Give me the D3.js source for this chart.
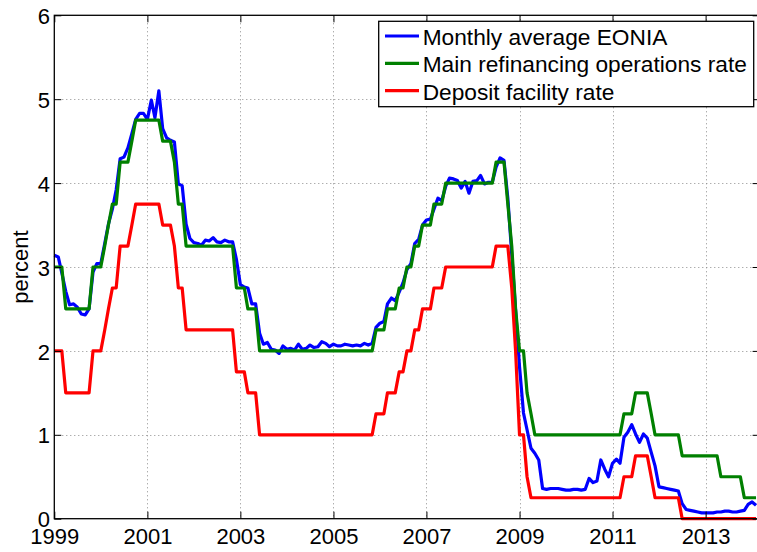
<!DOCTYPE html>
<html>
<head>
<meta charset="utf-8">
<script src="https://d3js.org/d3.v7.min.js"></script>
<style>
body { margin: 0; background: #fff; }
svg { display: block; font-family: "Liberation Sans", Arial, sans-serif; }
</style>
</head>
<body>
<div id="chart"></div>
<script>
// monthly values, Jan 1999 .. Feb 2014
var startYear = 1999;

var eonia = [
    3.14, 3.12, 2.93, 2.71, 2.55, 2.56, 2.52, 2.44, 2.43, 2.50, 2.94, 3.04,
    3.04, 3.28, 3.51, 3.69, 3.92, 4.29, 4.31, 4.42, 4.59, 4.76, 4.83, 4.83,
    4.76, 4.99, 4.78, 5.10, 4.65, 4.54, 4.51, 4.49, 3.99, 3.97, 3.51, 3.34,
    3.29, 3.28, 3.26, 3.32, 3.31, 3.35, 3.30, 3.29, 3.32, 3.30, 3.30, 3.09,
    2.79, 2.76, 2.75, 2.56, 2.56, 2.21, 2.08, 2.10, 2.02, 2.01, 1.97, 2.06,
    2.02, 2.03, 2.01, 2.08, 2.02, 2.03, 2.07, 2.04, 2.05, 2.11, 2.09, 2.05,
    2.08, 2.06, 2.06, 2.08, 2.07, 2.06, 2.07, 2.06, 2.09, 2.07, 2.09, 2.28,
    2.33, 2.35, 2.56, 2.63, 2.60, 2.70, 2.81, 2.97, 3.04, 3.28, 3.33, 3.50,
    3.56, 3.57, 3.69, 3.82, 3.79, 3.96, 4.06, 4.05, 4.03, 3.94, 4.02, 3.88,
    4.02, 4.03, 4.09, 3.99, 4.01, 4.01, 4.19, 4.30, 4.27, 3.82, 3.15, 2.49,
    1.81, 1.26, 1.06, 0.84, 0.78, 0.70, 0.36, 0.35, 0.36, 0.36, 0.36, 0.35,
    0.34, 0.34, 0.35, 0.35, 0.34, 0.35, 0.48, 0.43, 0.45, 0.70, 0.59, 0.50,
    0.66, 0.71, 0.66, 0.97, 1.03, 1.12, 1.01, 0.91, 1.01, 0.96, 0.79, 0.63,
    0.38, 0.37, 0.36, 0.35, 0.34, 0.33, 0.18, 0.11, 0.10, 0.09, 0.08, 0.07,
    0.07, 0.07, 0.07, 0.08, 0.08, 0.09, 0.09, 0.08, 0.08, 0.09, 0.10, 0.17,
    0.20, 0.16
];

var mro = [
    3.00, 3.00, 3.00, 2.50, 2.50, 2.50, 2.50, 2.50, 2.50, 2.50, 3.00, 3.00,
    3.00, 3.25, 3.50, 3.75, 3.75, 4.25, 4.25, 4.25, 4.50, 4.75, 4.75, 4.75,
    4.75, 4.75, 4.75, 4.75, 4.50, 4.50, 4.50, 4.25, 3.75, 3.75, 3.25, 3.25,
    3.25, 3.25, 3.25, 3.25, 3.25, 3.25, 3.25, 3.25, 3.25, 3.25, 3.25, 2.75,
    2.75, 2.75, 2.50, 2.50, 2.50, 2.00, 2.00, 2.00, 2.00, 2.00, 2.00, 2.00,
    2.00, 2.00, 2.00, 2.00, 2.00, 2.00, 2.00, 2.00, 2.00, 2.00, 2.00, 2.00,
    2.00, 2.00, 2.00, 2.00, 2.00, 2.00, 2.00, 2.00, 2.00, 2.00, 2.00, 2.25,
    2.25, 2.25, 2.50, 2.50, 2.50, 2.75, 2.75, 3.00, 3.00, 3.25, 3.25, 3.50,
    3.50, 3.50, 3.75, 3.75, 3.75, 4.00, 4.00, 4.00, 4.00, 4.00, 4.00, 4.00,
    4.00, 4.00, 4.00, 4.00, 4.00, 4.00, 4.25, 4.25, 4.25, 3.75, 3.25, 2.50,
    2.00, 2.00, 1.50, 1.25, 1.00, 1.00, 1.00, 1.00, 1.00, 1.00, 1.00, 1.00,
    1.00, 1.00, 1.00, 1.00, 1.00, 1.00, 1.00, 1.00, 1.00, 1.00, 1.00, 1.00,
    1.00, 1.00, 1.00, 1.25, 1.25, 1.25, 1.50, 1.50, 1.50, 1.50, 1.25, 1.00,
    1.00, 1.00, 1.00, 1.00, 1.00, 1.00, 0.75, 0.75, 0.75, 0.75, 0.75, 0.75,
    0.75, 0.75, 0.75, 0.75, 0.50, 0.50, 0.50, 0.50, 0.50, 0.50, 0.25, 0.25,
    0.25, 0.25
];

var deposit = [
    2.00, 2.00, 2.00, 1.50, 1.50, 1.50, 1.50, 1.50, 1.50, 1.50, 2.00, 2.00,
    2.00, 2.25, 2.50, 2.75, 2.75, 3.25, 3.25, 3.25, 3.50, 3.75, 3.75, 3.75,
    3.75, 3.75, 3.75, 3.75, 3.50, 3.50, 3.50, 3.25, 2.75, 2.75, 2.25, 2.25,
    2.25, 2.25, 2.25, 2.25, 2.25, 2.25, 2.25, 2.25, 2.25, 2.25, 2.25, 1.75,
    1.75, 1.75, 1.50, 1.50, 1.50, 1.00, 1.00, 1.00, 1.00, 1.00, 1.00, 1.00,
    1.00, 1.00, 1.00, 1.00, 1.00, 1.00, 1.00, 1.00, 1.00, 1.00, 1.00, 1.00,
    1.00, 1.00, 1.00, 1.00, 1.00, 1.00, 1.00, 1.00, 1.00, 1.00, 1.00, 1.25,
    1.25, 1.25, 1.50, 1.50, 1.50, 1.75, 1.75, 2.00, 2.00, 2.25, 2.25, 2.50,
    2.50, 2.50, 2.75, 2.75, 2.75, 3.00, 3.00, 3.00, 3.00, 3.00, 3.00, 3.00,
    3.00, 3.00, 3.00, 3.00, 3.00, 3.00, 3.25, 3.25, 3.25, 3.25, 2.75, 2.00,
    1.00, 1.00, 0.50, 0.25, 0.25, 0.25, 0.25, 0.25, 0.25, 0.25, 0.25, 0.25,
    0.25, 0.25, 0.25, 0.25, 0.25, 0.25, 0.25, 0.25, 0.25, 0.25, 0.25, 0.25,
    0.25, 0.25, 0.25, 0.50, 0.50, 0.50, 0.75, 0.75, 0.75, 0.75, 0.50, 0.25,
    0.25, 0.25, 0.25, 0.25, 0.25, 0.25, 0.00, 0.00, 0.00, 0.00, 0.00, 0.00,
    0.00, 0.00, 0.00, 0.00, 0.00, 0.00, 0.00, 0.00, 0.00, 0.00, 0.00, 0.00,
    0.00, 0.00
];

var seriesNames = ["Monthly average EONIA", "Main refinancing operations rate", "Deposit facility rate"];
var seriesColors = ["#0000ff", "#008000", "#ff0000"];
var yearTicks = [1999, 2001, 2003, 2005, 2007, 2009, 2011, 2013];
var percentTicks = [0, 1, 2, 3, 4, 5, 6];

var width = 757,
    height = 552,
    plotLeft = 54.3,
    plotRight = 759.6,
    plotTop = 15.3,
    plotBottom = 518.7;

var svg = d3.select("#chart")
    .append("svg")
    .attr("width", width)
    .attr("height", height);

var x = d3.scaleUtc()
    .domain([new Date(Date.UTC(1999, 0, 1)), new Date(Date.UTC(2014, 2, 1))])
    .range([plotLeft, plotRight]);

var y = d3.scaleLinear()
    .domain([0, 6])
    .range([plotBottom, plotTop]);

var months = eonia.map(function(d, i) { return new Date(Date.UTC(startYear, i, 1)); });
var yearDates = yearTicks.map(function(yr) { return new Date(Date.UTC(yr, 0, 1)); });

// dotted grid
var grid = svg.append("g")
    .attr("stroke", "#8c8c8c")
    .attr("stroke-width", 1)
    .attr("stroke-dasharray", "1,3");

grid.selectAll(".gx")
    .data(yearDates.slice(1))
    .enter().append("line")
    .attr("x1", function(d) { return Math.round(x(d)) + 0.5; })
    .attr("x2", function(d) { return Math.round(x(d)) + 0.5; })
    .attr("y1", plotTop)
    .attr("y2", plotBottom);

grid.selectAll(".gy")
    .data(percentTicks.slice(1, -1))
    .enter().append("line")
    .attr("x1", plotLeft)
    .attr("x2", plotRight)
    .attr("y1", function(d) { return Math.round(y(d)) + 0.5; })
    .attr("y2", function(d) { return Math.round(y(d)) + 0.5; });

// series
var line = d3.line()
    .x(function(d, i) { return x(months[i]); })
    .y(function(d) { return y(d); });

[eonia, mro, deposit].forEach(function(s, k) {
    svg.append("path")
        .datum(s)
        .attr("fill", "none")
        .attr("stroke", seriesColors[k])
        .attr("stroke-width", 3.2)
        .attr("stroke-linejoin", "round")
        .attr("d", line);
});

// axes, ticks pointing inward
var xAxis = svg.append("g")
    .attr("transform", "translate(0," + plotBottom + ")")
    .call(d3.axisBottom(x).tickValues(yearDates).tickFormat(d3.utcFormat("%Y"))
        .tickSize(-7).tickSizeOuter(0).tickPadding(9.7));

var xAxisTop = svg.append("g")
    .attr("transform", "translate(0," + plotTop + ")")
    .call(d3.axisTop(x).tickValues(yearDates).tickFormat("")
        .tickSize(-7).tickSizeOuter(0));

var yAxis = svg.append("g")
    .attr("transform", "translate(" + plotLeft + ",0)")
    .call(d3.axisLeft(y).tickValues(percentTicks).tickFormat(d3.format("d"))
        .tickSize(-7).tickSizeOuter(0).tickPadding(4.3));

var yAxisRight = svg.append("g")
    .attr("transform", "translate(" + plotRight + ",0)")
    .call(d3.axisRight(y).tickValues(percentTicks).tickFormat("")
        .tickSize(-7).tickSizeOuter(0));

svg.selectAll(".domain").remove();
svg.selectAll(".tick line").attr("stroke", "#000").attr("stroke-width", 1);
svg.selectAll(".tick text")
    .attr("fill", "#000")
    .style("font-size", "22px")
    .style("font-family", "'Liberation Sans', Arial, sans-serif");
yAxis.selectAll(".tick text").attr("dy", "0.37em");

// axes box
svg.append("rect")
    .attr("x", plotLeft)
    .attr("y", plotTop)
    .attr("width", plotRight - plotLeft)
    .attr("height", plotBottom - plotTop)
    .attr("fill", "none")
    .attr("stroke", "#000")
    .attr("stroke-width", 1.3);

svg.append("text")
    .attr("transform", "translate(28," + ((plotTop + plotBottom) / 2) + ") rotate(-90)")
    .attr("text-anchor", "middle")
    .style("font-size", "22px")
    .text("percent");

// legend
var legend = svg.append("g");
legend.append("rect")
    .attr("x", 378.7)
    .attr("y", 21.3)
    .attr("width", 375)
    .attr("height", 85.4)
    .attr("fill", "#fff")
    .attr("stroke", "#000")
    .attr("stroke-width", 1.3);

var rows = legend.selectAll(".row")
    .data(seriesNames)
    .enter().append("g")
    .attr("transform", function(d, i) { return "translate(0," + (45 + i * 27.3) + ")"; });

rows.append("line")
    .attr("x1", 385)
    .attr("x2", 419)
    .attr("y1", -9)
    .attr("y2", -9)
    .attr("stroke", function(d, i) { return seriesColors[i]; })
    .attr("stroke-width", 3.2);

rows.append("text")
    .attr("x", 422.7)
    .attr("y", 0)
    .style("font-size", "22.7px")
    .text(function(d) { return d; });
</script>
</body>
</html>
